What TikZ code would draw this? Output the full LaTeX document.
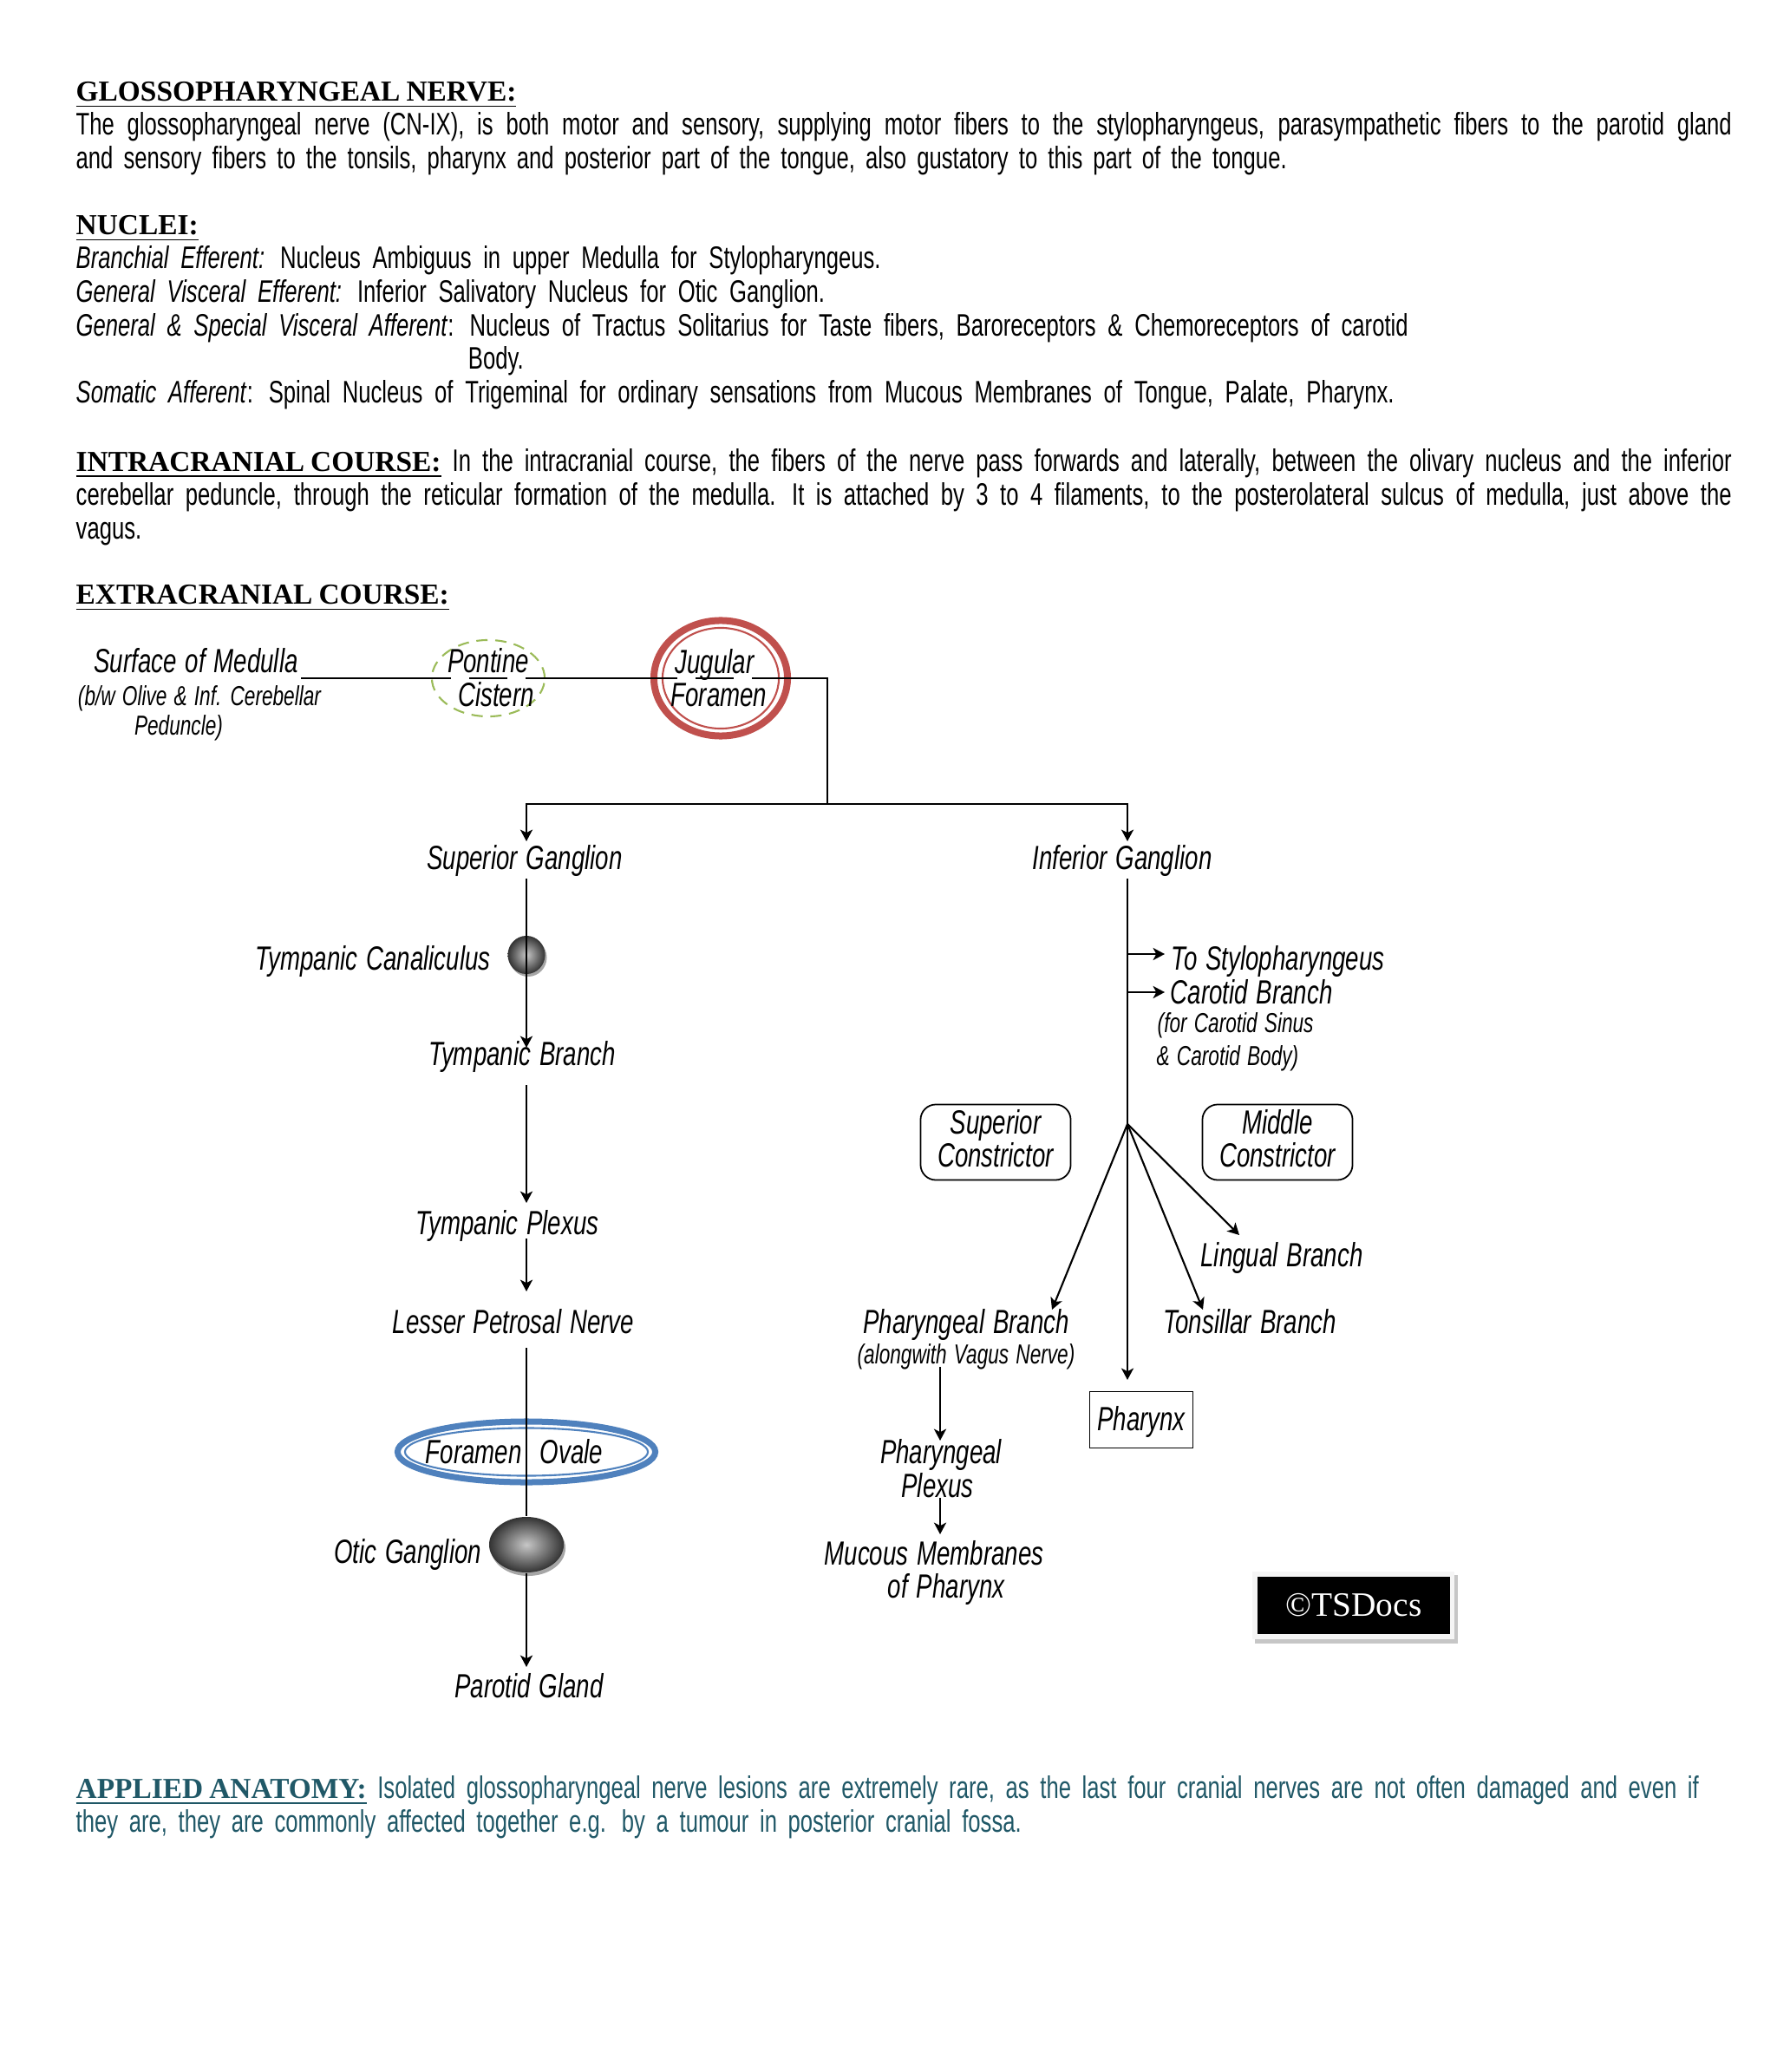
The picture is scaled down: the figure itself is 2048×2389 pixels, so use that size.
\documentclass[tikz,border=0pt]{standalone}
\usepackage{fontspec}
\usepackage{xcolor}
\usetikzlibrary{arrows,arrows.meta,positioning,calc,shapes.geometric}
\setmainfont[FakeStretch=0.715,WordSpace=1.3]{Liberation Sans}
\newfontfamily\headfont{Liberation Serif}
\definecolor{ringred}{HTML}{C0504D}
\definecolor{ringblue}{HTML}{4F81BD}
\definecolor{ringgreen}{HTML}{9BBB59}
\definecolor{applied}{HTML}{205867}
\newcommand{\headtxt}[1]{{\headfont\bfseries\fontsize{9.5}{11}\selectfont\spaceskip=2pt\underline{#1}}}

\begin{document}
\begin{tikzpicture}[
  x=0.01cm, y=-0.01cm,
  para/.style={anchor=north west, inner sep=0pt, text width=19.08cm, align=justify, font=\fontsize{10.2}{11.03}\selectfont, execute at begin node={\spaceskip=3.45pt plus 2pt minus 1pt}},
  lines/.style={anchor=north west, inner sep=0pt, text width=19.08cm, align=left, font=\fontsize{10.2}{11.03}\selectfont, execute at begin node={\spaceskip=3.9pt}},
  lbl/.style={inner sep=0pt, text height=9pt, text depth=1.8pt, font=\fontsize{11}{11}\selectfont\itshape},
  sublbl/.style={inner sep=0pt, text height=7.5pt, text depth=1.5pt, font=\fontsize{9}{9}\selectfont\itshape},
  tagbox/.style={draw, rounded corners=5pt, minimum width=1.73cm, minimum height=0.87cm, inner sep=0pt, align=center, line width=0.5pt, text depth=2.6pt, font=\fontsize{11}{10.9}\selectfont\itshape},
  ball/.style={ellipse, inner sep=0pt, shade, inner color=black!22, outer color=black!80},
  balledge/.style={ellipse, inner sep=0pt, fill=gray!70},
  wire/.style={line width=0.6pt},
  arrow/.style={-{Stealth[length=3.8pt,width=4pt,inset=1pt]}, line width=0.6pt}
]
\useasboundingbox (0,0) rectangle (2048,2389);

% Text above
\node[para] (intro) at (87,94) {\headtxt{GLOSSOPHARYNGEAL NERVE:}\linebreak
The glossopharyngeal nerve (CN-IX), is both motor and sensory, supplying motor fibers to the stylopharyngeus, parasympathetic fibers to the parotid gland\linebreak
and sensory fibers to the tonsils, pharynx and posterior part of the tongue, also gustatory to this part of the tongue.};

\node[lines] (nuclei) at (87,248) {\headtxt{NUCLEI:}\\
\textit{Branchial Efferent:} Nucleus Ambiguus in upper Medulla for Stylopharyngeus.\\
\textit{General Visceral Efferent:} Inferior Salivatory Nucleus for Otic Ganglion.\\
\textit{General \& Special Visceral Afferent}: Nucleus of Tractus Solitarius for Taste fibers, Baroreceptors \& Chemoreceptors of carotid\\
\hspace*{4.52cm}Body.\\
\textit{Somatic Afferent}: Spinal Nucleus of Trigeminal for ordinary sensations from Mucous Membranes of Tongue, Palate, Pharynx.};

\node[para] (intracranial) at (87,517) {\headtxt{INTRACRANIAL COURSE:} In the intracranial course, the fibers of the nerve pass forwards and laterally, between the olivary nucleus and the inferior\linebreak
cerebellar peduncle, through the reticular formation of the medulla. It is attached by 3 to 4 filaments, to the posterolateral sulcus of medulla, just above the\linebreak
vagus.};

\node[lines] (extracranial) at (87,674) {\headtxt{EXTRACRANIAL COURSE:}};

% Rings
\node[ellipse, draw=ringgreen, dash pattern=on 3.7pt off 2.5pt, line width=0.6pt, minimum width=1.3cm, minimum height=0.88cm, inner sep=0pt] (pontine) at (563,782) {};
\node[ellipse, draw=ringred, line width=0.08cm, minimum width=1.54cm, minimum height=1.33cm, inner sep=0pt] (jugular) at (831,782) {};
\node[ellipse, draw=ringred, line width=0.6pt, minimum width=1.34cm, minimum height=1.16cm, inner sep=0pt] (jugularin) at (831,782) {};
\node[ellipse, draw=ringblue, line width=0.07cm, minimum width=2.97cm, minimum height=0.7cm, inner sep=0pt] (ovale) at (607,1674) {};
\node[ellipse, draw=ringblue, line width=0.6pt, minimum width=2.8cm, minimum height=0.55cm, inner sep=0pt] (ovalein) at (607,1674) {};

% Top row
\node[lbl] (medulla) at (226,763) {Surface of Medulla};
\node[sublbl] (medsub) at (230,803) {(b/w Olive \& Inf. Cerebellar};
\node[sublbl] (medsubb) at (206,837) {Peduncle)};
\coordinate (wirestart) at (347,782);
\coordinate (split) at (954,927);
\draw[wire] (wirestart) -- (pontine.center) -- (jugular.center) -| (split);
\foreach \gapx in {520,585,781,846}
  \fill[white] (\gapx,776) rectangle ++(21,12);
\node[lbl] (pontinea) at (563,763) {Pontine};
\node[lbl] (pontineb) at (572,802) {Cistern};
\node[lbl] (jugulara) at (824,764) {Jugular};
\node[lbl] (jugularb) at (829,802) {Foramen};

% Left branch
\node[lbl] (supgang) at (605,990) {Superior Ganglion};
\node[balledge, minimum width=0.43cm, minimum height=0.44cm] (tympedge) at (609,1104) {};
\node[ball, minimum width=0.43cm, minimum height=0.44cm] (tympball) at (607,1101) {};
\node[lbl] (tympcan) at (430,1106) {Tympanic Canaliculus};
\node[lbl] (tympbr) at (602,1216) {Tympanic Branch};
\node[lbl] (tympplex) at (585,1411) {Tympanic Plexus};
\node[lbl] (lesser) at (592,1525) {Lesser Petrosal Nerve};
\node[lbl] (ovaletxt) at (593,1675) {Foramen\hspace{0.3em} Ovale};
\node[balledge, minimum width=0.86cm, minimum height=0.64cm] (oticedge) at (609,1785) {};
\node[ball, minimum width=0.86cm, minimum height=0.64cm] (oticball) at (607,1781) {};
\node[lbl] (otic) at (470,1790) {Otic Ganglion};
\node[lbl] (parotid) at (610,1945) {Parotid Gland};

\draw[arrow] (split) -| (tympball |- 0,970);
\coordinate (tympend) at (607,1208);
\draw[arrow] (tympball |- 0,1013) -- (tympend);
\draw[arrow] (tympball |- 0,1251) -- (tympball |- 0,1387);
\draw[arrow] (tympball |- 0,1428) -- (tympball |- 0,1489);
\draw[wire] (tympball |- 0,1554) -- (oticball.north);
\draw[arrow] (oticball.south) -- (oticball |- 0,1922);

% Right branch
\node[lbl] (infgang) at (1294,990) {Inferior Ganglion};
\coordinate (fork) at (1300,1296);
\draw[arrow] (split) -| (fork |- 0,970);
\draw[wire] (fork |- 0,1013) -- (fork);

\node[lbl, anchor=west] (stylo) at (1350,1106) {To Stylopharyngeus};
\node[lbl, anchor=west] (carotid) at (1349,1145) {Carotid Branch};
\node[sublbl, anchor=west] (carsuba) at (1334,1180) {(for Carotid Sinus};
\node[sublbl, anchor=west] (carsubb) at (1333,1218) {\& Carotid Body)};
\draw[arrow] (fork |- 0,1100) -- (1343,1100);
\draw[arrow] (fork |- 0,1144) -- (1343,1144);

\node[tagbox] (supcon) at (1148,1317) {Superior\\Constrictor};
\node[tagbox] (midcon) at (1473,1317) {Middle\\Constrictor};

\node[lbl] (lingual) at (1478,1448) {Lingual Branch};
\node[lbl] (tonsil) at (1441,1525) {Tonsillar Branch};
\node[lbl] (phbranch) at (1114,1525) {Pharyngeal Branch};
\node[sublbl] (phsub) at (1114,1562) {(alongwith Vagus Nerve)};
\node[lbl, draw, line width=0.5pt, minimum width=1.19cm, minimum height=0.65cm] (pharynx) at (1316,1637) {Pharynx};

\coordinate (lingend) at (1429,1424);
\coordinate (tonsend) at (1387,1510);
\coordinate (phend) at (1213,1510);
\draw[arrow] (fork) -- (lingend);
\draw[arrow] (fork) -- (tonsend);
\draw[arrow] (fork) -- (phend);
\draw[arrow] (fork) -- (fork |- 0,1591);

\node[lbl] (plexa) at (1085,1675) {Pharyngeal};
\node[lbl] (plexb) at (1081,1714) {Plexus};
\node[lbl] (mucousa) at (1077,1792) {Mucous Membranes};
\node[lbl] (mucousb) at (1091,1830) {of Pharynx};
\draw[arrow] (1084,1576) -- (1084,1661);
\draw[arrow] (1084,1727) -- (1084,1769);

% Stamp
\fill[gray!45] (1447,1816) rectangle (1681,1895);
\fill[gray!8] (1444,1812) rectangle (1677,1890);
\node[fill=black, text=white, minimum width=2.22cm, minimum height=0.655cm, inner sep=0pt, font=\headfont\fontsize{11.2}{11.2}\selectfont] (stamp) at (1561,1851) {©TSDocs};

% Text below
\node[lines, text=applied, execute at begin node={\spaceskip=3.6pt}] (appliedtxt) at (87,2047) {\headtxt{APPLIED ANATOMY:} Isolated glossopharyngeal nerve lesions are extremely rare, as the last four cranial nerves are not often damaged and even if\\
they are, they are commonly affected together e.g. by a tumour in posterior cranial fossa.};
\end{tikzpicture}
\end{document}
